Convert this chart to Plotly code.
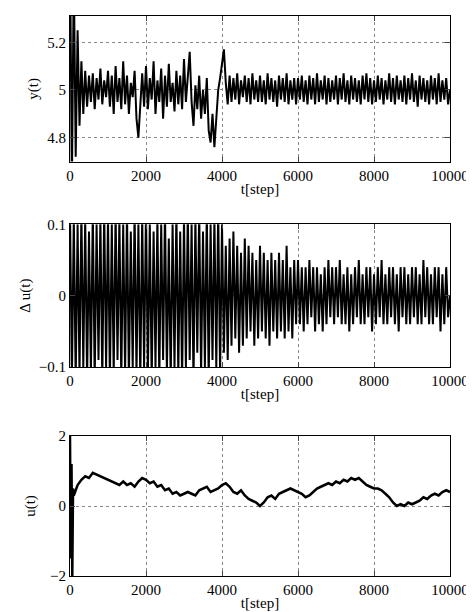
import plotly.graph_objects as go
from plotly.subplots import make_subplots

# time axis for y(t) and delta u(t), one value every 50 steps
t = list(range(0, 10001, 50))
x_ticks = [0, 2000, 4000, 6000, 8000, 10000]
x_labels = ['0', '2000', '4000', '6000', '8000', '10000']

y = [5.6, 4.6, 5.5, 4.72, 5.25, 4.85, 5.12, 4.9, 5.08, 4.93, 5.06, 4.95, 5.07, 4.92, 5.05, 4.96, 5.09, 4.94, 5.04, 4.97,
     5.08, 4.93, 5.06, 4.9, 5.1, 4.95, 5.05, 4.92, 5.12, 4.94, 5.06, 4.9, 5.03, 4.97, 5.08, 4.88, 4.8, 4.95, 5.07, 4.93,
     5.1, 4.92, 5.05, 4.96, 5.12, 4.9, 5.04, 4.95, 5.09, 4.88, 5.06, 4.93, 5.11, 4.95, 5.03, 4.91, 5.08, 4.94, 5.06, 4.92,
     5.13, 4.95, 5.05, 5.16, 4.95, 4.85, 5.02, 4.92, 5.06, 4.88, 5.0, 4.9, 5.05, 4.83, 4.78, 4.9, 4.76, 4.88, 5.0, 5.05,
     5.12, 5.17, 5.03, 4.94, 5.06, 4.95, 5.05, 4.96, 5.07, 4.94, 5.04, 4.97, 5.06, 4.95, 5.05, 4.94, 5.07, 4.96, 5.04, 4.95,
     5.06, 4.95, 5.04, 4.94, 5.07, 4.96, 5.05, 4.95, 5.04, 4.93, 5.06, 4.96, 5.05, 4.95, 5.07, 4.94, 5.04, 4.96, 5.05, 4.94,
     5.05, 4.96, 5.06, 4.95, 5.04, 4.94, 5.06, 4.96, 5.05, 4.94, 5.07, 4.95, 5.04, 4.96, 5.06, 4.94, 5.05, 4.95, 5.04, 4.96,
     5.06, 4.94, 5.05, 4.96, 5.07, 4.95, 5.04, 4.94, 5.06, 4.96, 5.05, 4.95, 5.04, 4.94, 5.06, 4.96, 5.07, 4.95, 5.05, 4.94,
     5.04, 4.95, 5.06, 4.96, 5.05, 4.94, 5.04, 4.96, 5.07, 4.95, 5.05, 4.94, 5.06, 4.96, 5.04, 4.95, 5.06, 4.94, 5.05, 4.96,
     5.07, 4.95, 5.04, 4.93, 5.06, 4.96, 5.05, 4.95, 5.04, 4.94, 5.06, 4.96, 5.05, 4.94, 5.07, 4.95, 5.04, 4.96, 5.05, 4.94,
     5.0]

du = [0.12, -0.12, 0.11, -0.12, 0.1, -0.11, 0.12, -0.1, 0.11, -0.12, 0.09, -0.11, 0.12, -0.12, 0.1, -0.09, 0.11, -0.12, 0.12, -0.1,
      0.11, -0.12, 0.1, -0.11, 0.12, -0.09, 0.11, -0.12, 0.1, -0.11, 0.12, -0.12, 0.09, -0.1, 0.12, -0.11, 0.1, -0.12, 0.11, -0.1,
      0.12, -0.11, 0.1, -0.12, 0.09, -0.1, 0.11, -0.12, 0.1, -0.09, 0.12, -0.11, 0.08, -0.12, 0.1, -0.1, 0.12, -0.11, 0.09, -0.12,
      0.11, -0.1, 0.12, -0.09, 0.1, -0.12, 0.11, -0.08, 0.12, -0.11, 0.09, -0.1, 0.12, -0.12, 0.1, -0.09, 0.11, -0.1, 0.12, -0.11,
      0.1, -0.08, 0.07, -0.09, 0.08, -0.07, 0.09, -0.06, 0.07, -0.08, 0.06, -0.07, 0.08, -0.06, 0.07, -0.05, 0.06, -0.07, 0.05, -0.06,
      0.07, -0.05, 0.06, -0.06, 0.05, -0.07, 0.06, -0.05, 0.05, -0.06, 0.06, -0.05, 0.05, -0.06, 0.07, -0.05, 0.04, -0.06, 0.05, -0.04,
      0.05, -0.04, 0.04, -0.05, 0.04, -0.04, 0.05, -0.03, 0.04, -0.05, 0.04, -0.04, 0.03, -0.05, 0.04, -0.04, 0.05, -0.03, 0.04, -0.04,
      0.04, -0.03, 0.05, -0.04, 0.03, -0.04, 0.04, -0.05, 0.03, -0.04, 0.04, -0.03, 0.05, -0.04, 0.03, -0.04, 0.04, -0.03, 0.04, -0.05,
      0.03, -0.04, 0.04, -0.03, 0.05, -0.04, 0.03, -0.04, 0.04, -0.03, 0.04, -0.04, 0.03, -0.05, 0.04, -0.03, 0.04, -0.04, 0.03, -0.04,
      0.04, -0.03, 0.04, -0.04, 0.03, -0.04, 0.05, -0.03, 0.04, -0.04, 0.03, -0.04, 0.04, -0.03, 0.04, -0.05, 0.03, -0.04, 0.04, -0.03,
      0.0]

# u(t) is smoother, sampled coarser
t_u = [0, 20, 40, 60, 80] + list(range(100, 10001, 100))
u = [2.0, -1.5, 1.2, -2.0, 0.5,
     0.3, 0.6, 0.75, 0.85, 0.8, 0.95, 0.9, 0.85, 0.8, 0.75,
     0.7, 0.65, 0.6, 0.7, 0.6, 0.65, 0.55, 0.7, 0.8, 0.75,
     0.65, 0.7, 0.55, 0.6, 0.45, 0.5, 0.35, 0.4, 0.3, 0.35,
     0.4, 0.35, 0.3, 0.45, 0.5, 0.55, 0.4, 0.45, 0.5, 0.6,
     0.65, 0.55, 0.4, 0.35, 0.45, 0.3, 0.2, 0.15, 0.1, 0.0,
     0.1, 0.25, 0.3, 0.2, 0.35, 0.4, 0.45, 0.5, 0.45, 0.4,
     0.35, 0.25, 0.3, 0.4, 0.5, 0.55, 0.6, 0.65, 0.6, 0.7,
     0.65, 0.75, 0.7, 0.8, 0.75, 0.8, 0.7, 0.6, 0.55, 0.5,
     0.5, 0.45, 0.35, 0.25, 0.1, 0.0, 0.05, 0.0, 0.1, 0.05,
     0.1, 0.15, 0.25, 0.2, 0.3, 0.35, 0.3, 0.4, 0.45, 0.4]

fig = make_subplots(rows=3, cols=1)
fig.add_trace(go.Scatter(x=t, y=y, mode='lines', line=dict(color='black', width=2)), row=1, col=1)
fig.add_trace(go.Scatter(x=t, y=du, mode='lines', line=dict(color='black', width=2)), row=2, col=1)
fig.add_trace(go.Scatter(x=t_u, y=u, mode='lines', line=dict(color='black', width=2.5)), row=3, col=1)

font = dict(family='Liberation Serif', size=15, color='black')
ax = dict(showline=True, linecolor='black', mirror='ticks', ticks='inside', ticklen=5,
          showgrid=True, gridcolor='#888', griddash='dot', gridwidth=1, zeroline=False)

fig.update_layout(
    width=474, height=612, showlegend=False,
    plot_bgcolor='white', paper_bgcolor='white',
    margin=dict(l=62, r=32, t=0, b=44),
    font=font,
    yaxis=dict(domain=[0.74, 1], range=[4.7, 5.31], tickvals=[4.8, 5, 5.2], title=dict(text='y(t)', standoff=4), **ax),
    yaxis2=dict(domain=[0.373, 0.628], range=[-0.1, 0.1], tickvals=[-0.1, 0, 0.1], title=dict(text='Δ u(t)', standoff=4), **ax),
    yaxis3=dict(domain=[0.0, 0.25], range=[-2, 2], tickvals=[-2, 0, 2], title=dict(text='u(t)', standoff=10), **ax),
)
fig.update_xaxes(range=[0, 10000], tickvals=x_ticks, ticktext=x_labels,
                 title=dict(text='t[step]', standoff=0), **ax)
fig.update_xaxes(tickfont=font, title_font=font)
fig.update_yaxes(tickfont=font, title_font=font)

fig.write_html("out.html")
